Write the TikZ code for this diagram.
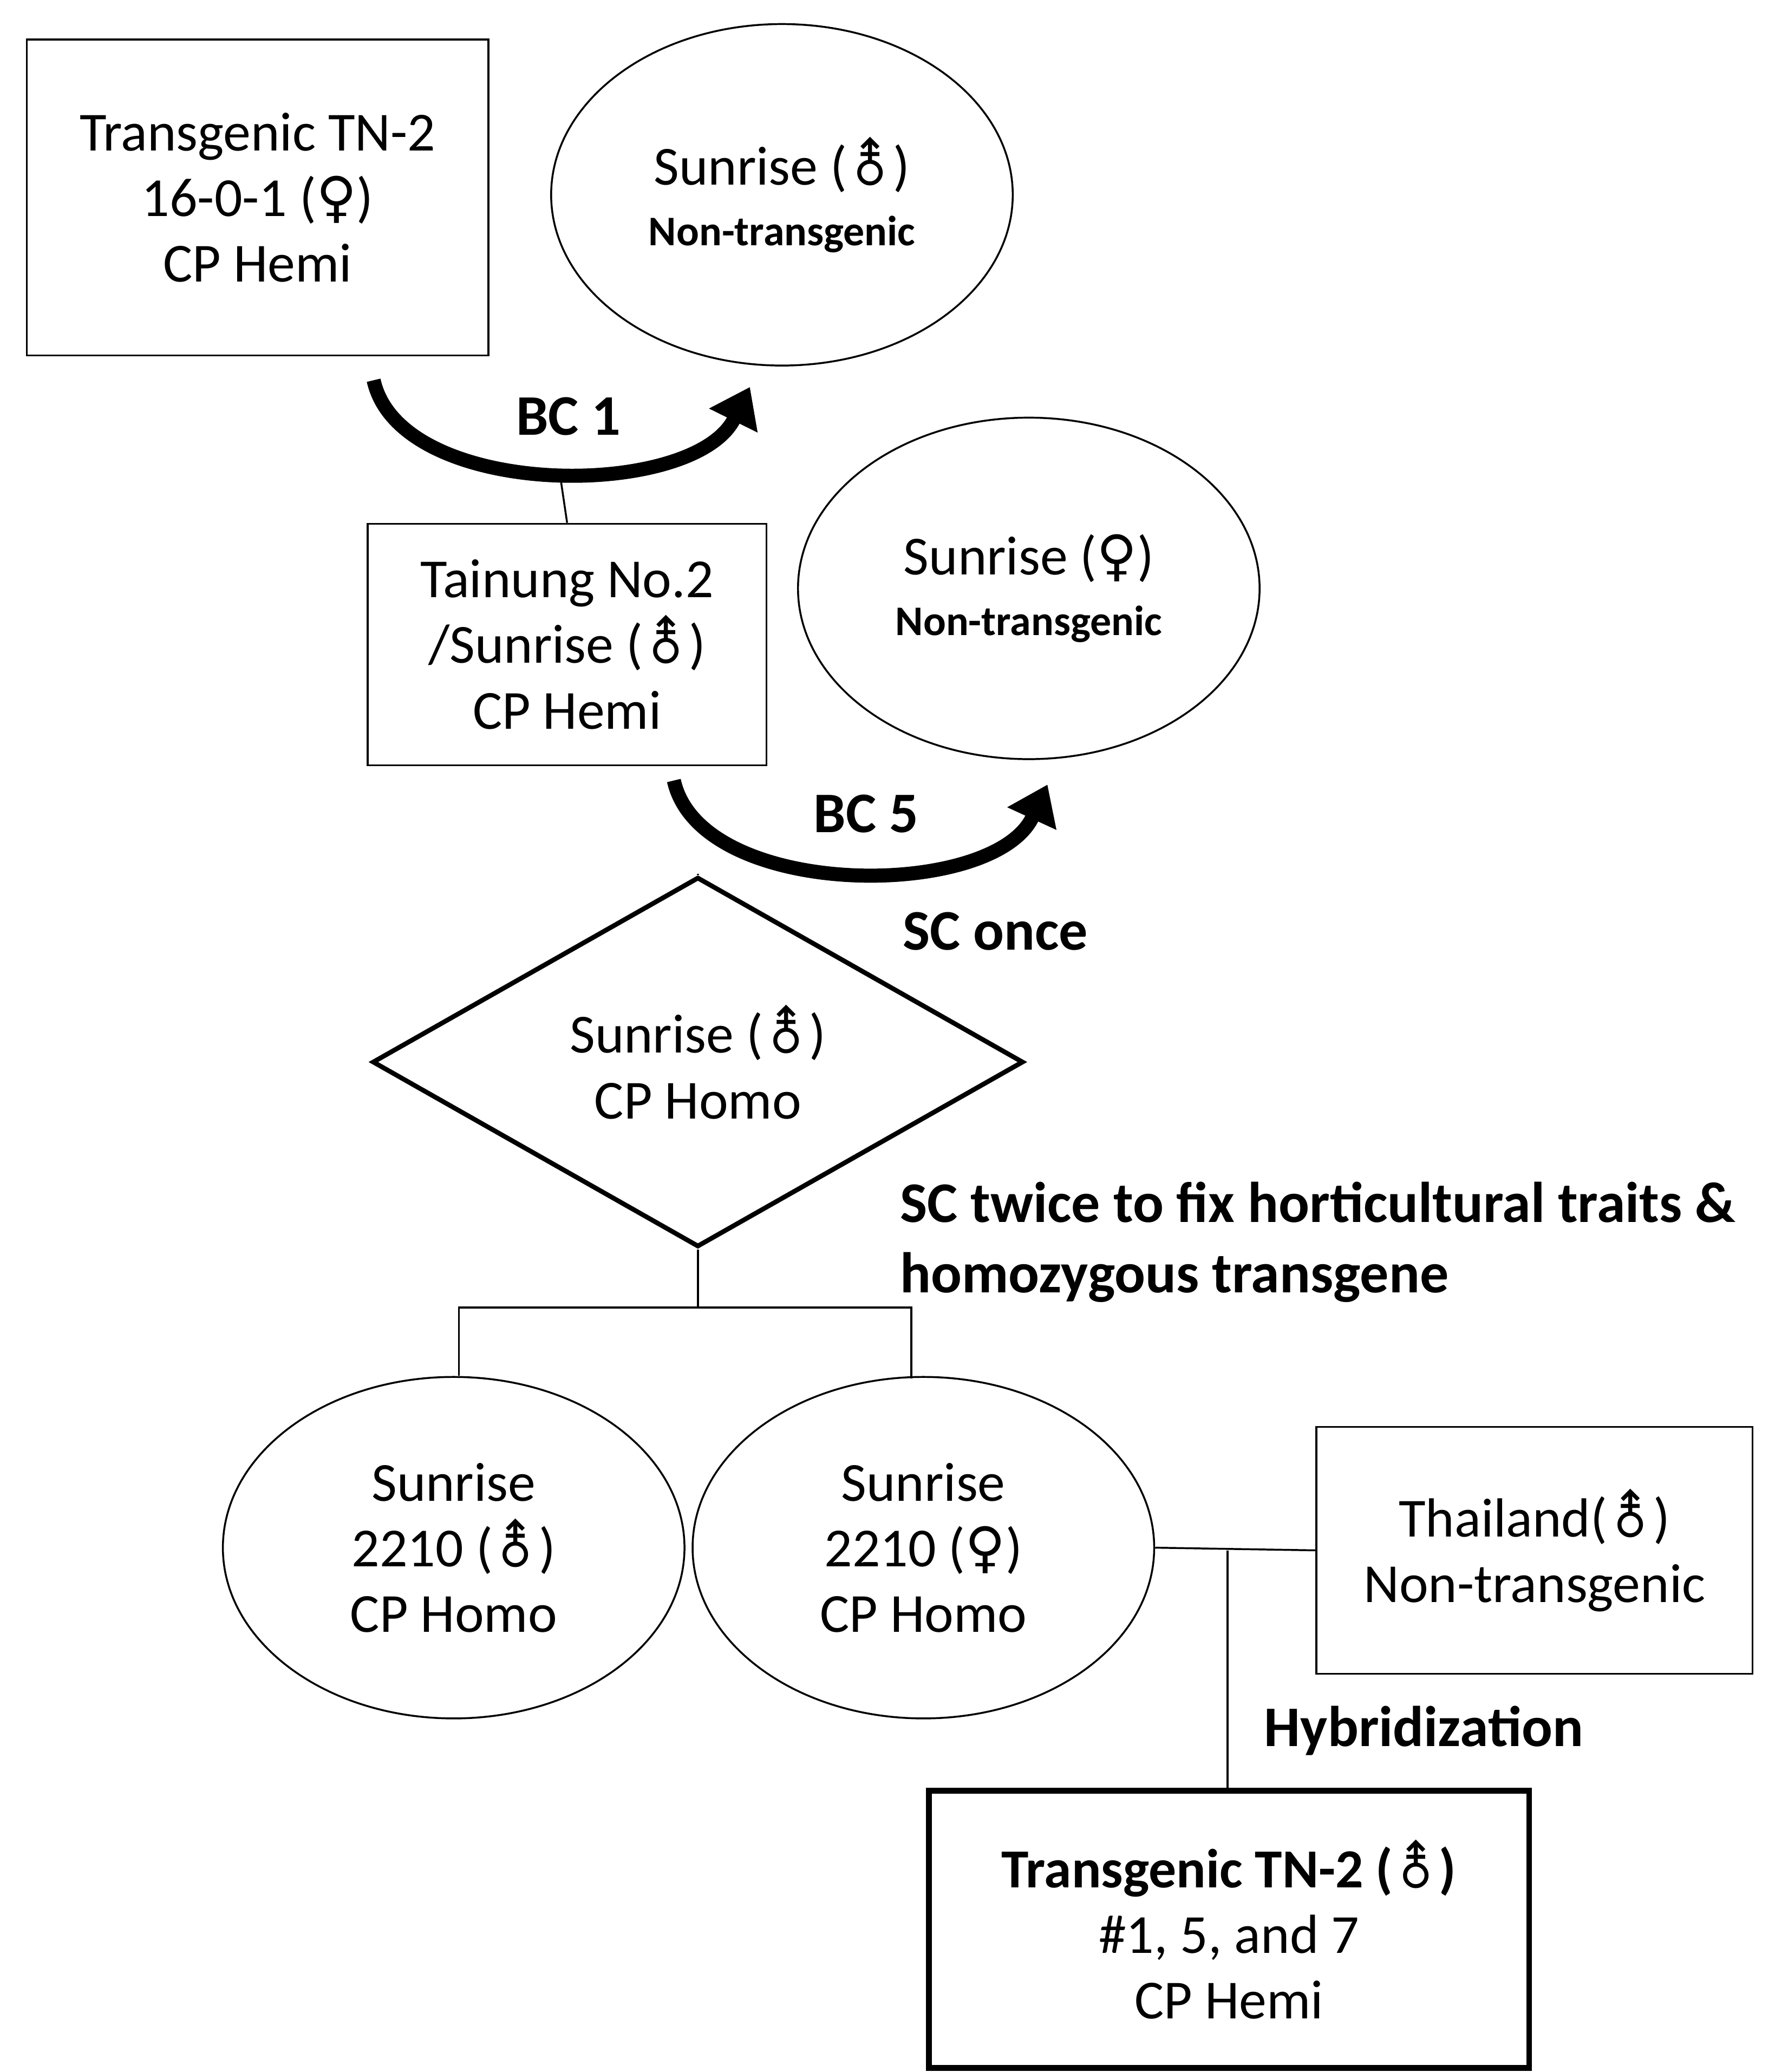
\documentclass[tikz,border=0pt]{standalone}
\usepackage{fontspec}
\setmainfont{Carlito}
\newfontfamily\symfont{DejaVu Sans}
\usetikzlibrary{shapes.geometric,arrows.meta}
\newcommand{\herm}{{\symfont\char"26A8}}
\newcommand{\fem}{{\symfont\char"2640}}

\begin{document}
\begin{tikzpicture}[x=0.02cm, y=-0.02cm, thick, align=center,
  font=\fontsize{23.5}{28}\selectfont,
  box/.style = {draw, inner sep=0pt},
  oval/.style = {draw, ellipse, inner sep=0pt, minimum width=6.92cm, minimum height=5.12cm},
  tag/.style = {font=\fontsize{24.5}{30}\selectfont\bfseries},
  bc/.style = {line width=6pt, -{Triangle[length=16pt,width=22pt]}}]
  \useasboundingbox (0,0) rectangle (1330,1553);

  \node[box, minimum width=6.92cm, minimum height=4.74cm] (tn2) at (193,148) {Transgenic TN-2\\16-0-1 (\fem)\\CP Hemi};
  \node[oval] (sun1) at (586,146) {Sunrise (\herm)\\[-2pt]{\fontsize{18}{22}\selectfont\bfseries Non-transgenic}};
  \node[box, minimum width=5.98cm, minimum height=3.62cm] (tain) at (425,483) {Tainung No.2\\/Sunrise (\herm)\\CP Hemi};
  \node[oval] (sun2) at (771,441) {Sunrise (\fem)\\[-2pt]{\fontsize{18}{22}\selectfont\bfseries Non-transgenic}};
  \node[draw, line width=2pt, diamond, inner sep=0pt, minimum width=9.76cm, minimum height=4.16cm] (homo) at (523,796) {Sunrise (\herm)\\CP Homo};
  \node[oval] (h2210) at (340,1160) {Sunrise\\2210 (\herm)\\CP Homo};
  \node[oval] (f2210) at (692,1160) {Sunrise\\2210 (\fem)\\CP Homo};
  \node[box, minimum width=6.54cm, minimum height=3.7cm] (thai) at (1150,1162) {Thailand(\herm)\\Non-transgenic};
  \node[box, line width=2.5pt, minimum width=9cm, minimum height=4.16cm] (final) at (921,1446) {\textbf{Transgenic TN-2 (\herm)}\\\#1, 5, and 7\\CP Hemi};

  % labels
  \node[tag] (bc1) at (426,312) {BC 1};
  \node[tag] (bc5) at (649,610) {BC 5};
  \node[tag] (sc1) at (746,698) {SC once};
  \node[tag, align=left, anchor=west] (sc2) at (668,931) {SC twice to fix horticultural traits \&\\ homozygous transgene};
  \node[tag] (hyb) at (1067,1297) {Hybridization};

  % crossing arrows
  \coordinate (a1) at (280,285);
  \coordinate (a1e) at (562,290);
  \coordinate (a1m) at (420,358);
  \coordinate (a5) at (505,585);
  \coordinate (a5e) at (785,588);
  \coordinate (a5m) at (523,655);
  \draw[bc] (a1) .. controls (300,375) and (520,375) .. (a1e);
  \draw[bc] (a5) .. controls (525,675) and (745,675) .. (a5e);

  \draw (a1m) -- (tain.north);
  \draw (a5m) -- (homo.north);

  \coordinate (split) at (523,980);
  \draw (homo.south) -- (split);
  \draw (split) -- (344,980) -- (h2210.north -| 344,0);
  \draw (split) -- (683,980) -- (683,1033);
  \coordinate (cross) at (920,1162);
  \draw (f2210.east) -- (thai.west);
  \draw (cross) -- (final.north -| cross);
\end{tikzpicture}
\end{document}
